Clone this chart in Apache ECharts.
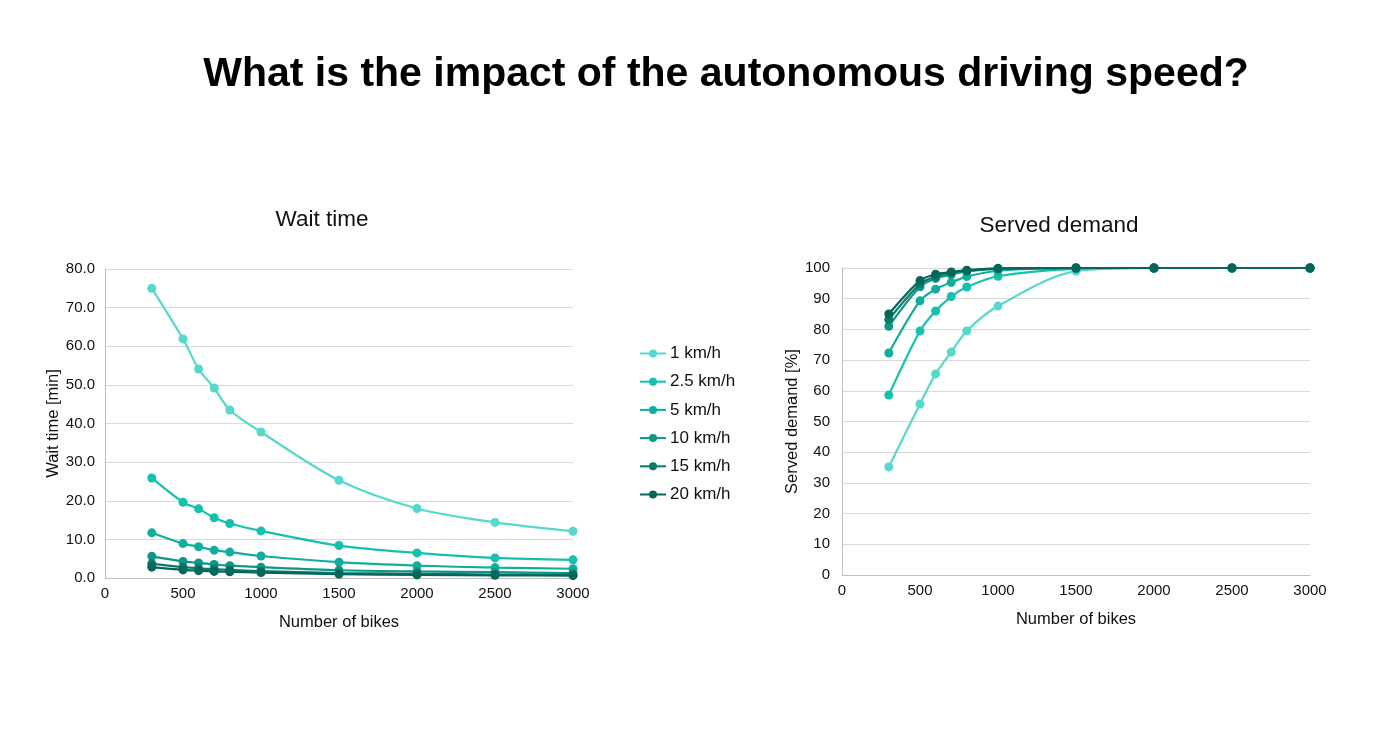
<!DOCTYPE html>
<html>
<head>
<meta charset="utf-8">
<script src="https://cdn.jsdelivr.net/npm/echarts@6/dist/echarts.min.js"></script>
<style>
html,body{margin:0;padding:0;background:#fff;}
#c{width:1400px;height:746px;}
</style>
</head>
<body>
<div id="c"></div>
<script>
const bikes = [300, 500, 600, 700, 800, 1000, 1500, 2000, 2500, 3000];
const speeds = ['1 km/h', '2.5 km/h', '5 km/h', '10 km/h', '15 km/h', '20 km/h'];
const waitTime = [
  [75.0, 61.9, 54.1, 49.2, 43.5, 37.8, 25.3, 18.0, 14.4, 12.1],
  [25.9, 19.6, 17.9, 15.6, 14.1, 12.2, 8.4, 6.5, 5.2, 4.7],
  [11.7, 8.9, 8.1, 7.2, 6.7, 5.7, 4.1, 3.2, 2.7, 2.4],
  [5.6, 4.3, 3.9, 3.5, 3.2, 2.8, 2.0, 1.7, 1.5, 1.3],
  [3.7, 2.8, 2.5, 2.3, 2.1, 1.8, 1.3, 1.1, 0.9, 0.8],
  [2.8, 2.1, 1.9, 1.7, 1.6, 1.4, 1.0, 0.8, 0.7, 0.6]
];
const servedDemand = [
  [35.2, 55.7, 65.5, 72.6, 79.5, 87.6, 99.0, 100, 100, 100],
  [58.6, 79.5, 86.0, 90.7, 93.8, 97.3, 99.7, 100, 100, 100],
  [72.3, 89.3, 93.1, 95.3, 97.2, 99.1, 100, 100, 100, 100],
  [81.0, 93.9, 96.6, 97.9, 98.9, 99.7, 100, 100, 100, 100],
  [83.2, 94.8, 97.2, 98.5, 99.1, 99.8, 100, 100, 100, 100],
  [85.0, 95.9, 98.0, 98.7, 99.3, 99.9, 100, 100, 100, 100]
];
const colors = ['#55d9ca', '#14c0ae', '#10ae9e', '#0c9786', '#087b6b', '#06665a'];

const FONT = 'Liberation Sans, Arial, Helvetica, sans-serif';
const axisLabel = {color: '#111', fontSize: 15, fontFamily: FONT};
const nameStyle = {color: '#111', fontSize: 16.5, fontFamily: FONT};

function xAxis(gi) {
  return {
    type: 'value', gridIndex: gi, min: 0, max: 3000, interval: 500,
    name: 'Number of bikes', nameLocation: 'middle', nameGap: 36, nameTextStyle: nameStyle,
    axisLine: {show: true, lineStyle: {color: '#bfbfbf'}},
    axisTick: {show: false}, splitLine: {show: false},
    axisLabel: Object.assign({margin: 8, formatter: v => String(v)}, axisLabel)
  };
}

const series = [];
speeds.forEach((s, i) => {
  series.push({
    name: s, type: 'line', xAxisIndex: 0, yAxisIndex: 0, smooth: 0.3,
    data: bikes.map((b, j) => [b, waitTime[i][j]]),
    symbol: 'circle', symbolSize: 9, color: colors[i],
    lineStyle: {width: 2.2}, z: 2 + i
  });
  series.push({
    name: s, type: 'line', xAxisIndex: 1, yAxisIndex: 1, smooth: 0.3,
    data: bikes.map((b, j) => [b, servedDemand[i][j]]),
    symbol: 'circle', symbolSize: 9, color: colors[i],
    lineStyle: {width: 2.2}, z: 2 + i
  });
});

const chart = echarts.init(document.getElementById('c'), null, {renderer: 'canvas'});
chart.setOption({
  animation: false,
  backgroundColor: '#fff',
  title: [
    {text: 'What is the impact of the autonomous driving speed?', left: 721, top: 49, textAlign: 'center',
     textStyle: {fontSize: 41, fontWeight: 'bold', color: '#000', fontFamily: FONT}},
    {text: 'Wait time', left: 317, top: 203, textAlign: 'center',
     textStyle: {fontSize: 22.5, fontWeight: 'normal', color: '#111', fontFamily: FONT}},
    {text: 'Served demand', left: 1054, top: 209, textAlign: 'center',
     textStyle: {fontSize: 22.5, fontWeight: 'normal', color: '#111', fontFamily: FONT}}
  ],
  legend: {
    data: speeds, orient: 'vertical', left: 634, top: 340, itemGap: 11.2,
    itemWidth: 26, itemHeight: 10,
    textStyle: {fontSize: 17, color: '#111', fontFamily: FONT, padding: [0, 0, 0, -1]}
  },
  grid: [
    {left: 105, top: 269, width: 468, height: 309},
    {left: 842, top: 268, width: 468, height: 307}
  ],
  xAxis: [xAxis(0), xAxis(1)],
  yAxis: [
    {type: 'value', gridIndex: 0, min: 0, max: 80, interval: 10,
     name: 'Wait time [min]', nameLocation: 'middle', nameGap: 43, nameTextStyle: nameStyle,
     axisLine: {show: true, lineStyle: {color: '#bfbfbf'}}, axisTick: {show: false},
     splitLine: {lineStyle: {color: '#d9d9d9', width: 1}},
     axisLabel: Object.assign({margin: 10, formatter: v => v.toFixed(1)}, axisLabel)},
    {type: 'value', gridIndex: 1, min: 0, max: 100, interval: 10,
     name: 'Served demand [%]', nameLocation: 'middle', nameGap: 40, nameTextStyle: nameStyle,
     axisLine: {show: true, lineStyle: {color: '#bfbfbf'}}, axisTick: {show: false},
     splitLine: {lineStyle: {color: '#d9d9d9', width: 1}},
     axisLabel: Object.assign({margin: 12}, axisLabel)}
  ],
  series: series
});
</script>
</body>
</html>
